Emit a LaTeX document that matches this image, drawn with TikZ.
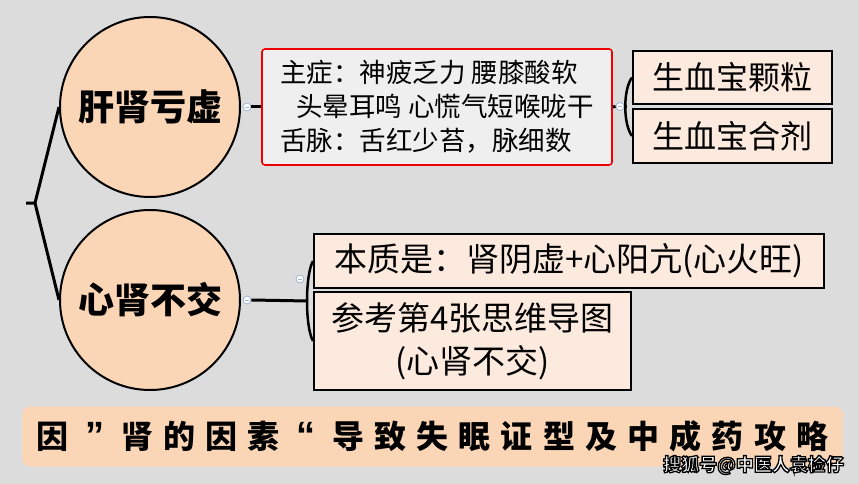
\documentclass[tikz,border=0pt]{standalone}
\usepackage{fontspec}
\setmainfont{Noto Sans CJK SC}
\newfontfamily\heavy{Noto Sans CJK SC Black}
\newfontfamily\qfont{Liberation Sans}
\usetikzlibrary{calc}
\definecolor{bg}{HTML}{DCDCDC}
\definecolor{peach}{HTML}{FBD6B6}
\definecolor{lpeach}{HTML}{FDEADE}
\definecolor{boxgray}{HTML}{EFEFEF}
\definecolor{redb}{HTML}{F00000}
\definecolor{markblue}{HTML}{9DB3D9}
\def\lsp#1{\lspA#1\relax}
\def\lspA#1{\ifx#1\relax\unskip\else#1\hspace{10.2pt}\expandafter\lspA\fi}
\newcommand\qcell[1]{\makebox[32pt][c]{\qfont\bfseries\fontsize{38}{38}\selectfont #1}\hspace{10.2pt}}
\newcommand\outlined[1]{{\color{white}\special{pdf:literal direct 0 0 0 RG 2 Tr 1.3 w}#1\special{pdf:literal direct 0 Tr}}}
\begin{document}
\begin{tikzpicture}[x=1pt,y=-1pt,
  circ/.style={circle, draw=black, line width=2pt, fill=peach, minimum size=180pt, inner sep=0pt,
    font=\fontsize{36}{40}\selectfont\heavy},
  redbox/.style={rectangle, rounded corners=3pt, draw=redb, line width=1.6pt, fill=boxgray,
    minimum width=350pt, minimum height=116pt, inner sep=0pt, align=left,
    font=\fontsize{26.5}{34}\selectfont},
  medbox/.style={rectangle, draw=black, line width=2pt, fill=lpeach, inner sep=0pt,
    font=\fontsize{32}{43}\selectfont},
  colmark/.style={circle, draw=markblue, fill=white, line width=0.8pt, minimum size=8pt, inner sep=0pt,
    path picture={\draw[markblue,line width=0.8pt]
      ($(path picture bounding box.west)+(2,0)$) -- ($(path picture bounding box.east)+(-2,0)$);}},
  conn/.style={line width=3pt, black},
  brk/.style={line width=2.5pt, black},
]
% background
\fill[bg] (0,0) rectangle (859,484);
\useasboundingbox (0,0) rectangle (859,484);

% main circles
\node[circ] (c1) at (150,107) {肝肾亏虚};
\node[circ] (c2) at (150,300) {心肾不交};

% left tree bracket
\coordinate (root) at (26,203);
\coordinate (fork) at (35,203);
\draw[conn, line join=round] (root) -- (fork) -- (c1.west);
\draw[conn, line join=round] (fork) -- (c2.west);

% group 1
\node[redbox] (sym) at (437,107) {主症：神疲乏力 腰膝酸软\\\hspace*{16pt}头晕耳鸣 心慌气短喉咙干\\舌脉：舌红少苔，脉细数};
\node[colmark] (m1) at (247,107) {};
\draw[conn] (m1.east) -- (sym.west);

\node[medbox, minimum width=199pt, minimum height=53pt] (b1) at (732.5,77.5) {生血宝颗粒};
\node[medbox, minimum width=199pt, minimum height=54pt] (b2) at (732.5,136) {生血宝合剂};
\node[colmark] (m2) at (620,106.5) {};
\coordinate (br1) at (627,106.5);
\draw[conn] (sym.east) -- (m2.west);
\draw[conn] (m2.east) -- (br1);
\draw[brk] (b1.west) .. controls ($(b1.west)+(-9,12)$) and ($(b2.west)+(-9,-12)$) .. (b2.west);

% group 2
\node[medbox, minimum width=510pt, minimum height=54pt, font=\fontsize{33}{43}\selectfont] (b3) at (569,261) {本质是：肾阴虚+心阳亢(心火旺)};
\node[medbox, minimum width=317pt, minimum height=98pt, align=center, font=\fontsize{33}{43}\selectfont] (b4) at (472.5,341) {参考第4张思维导图\\(心肾不交)};
\node[colmark] (m3) at (247,300) {};
\coordinate (br2) at (308,301);
\draw[conn] (m3.east) -- (br2);
\draw[brk] (b3.west) .. controls ($(b3.west)+(-8,14)$) and ($(b4.west)+(-8,-14)$) .. (b4.west);
\node[colmark] (m4) at (300,279) {};

% banner
\node[rectangle, rounded corners=8pt, fill=peach, minimum width=821pt, minimum height=60pt, inner sep=0pt] (banner) at (432.5,436.5) {};
\node[inner sep=0pt, font=\fontsize{32}{36}\selectfont\heavy] (title) at (banner.center)
  {\lsp{因}\hspace{10.2pt}\qcell{”}\lsp{肾的因素}\hspace{10.2pt}\qcell{“}\lsp{导致失眠证型及中成药攻略}};

% watermark
\node[inner sep=0pt, font=\fontsize{18}{20}\selectfont\bfseries] (wm) at (753.5,465) {\outlined{搜狐号@中医人袁检仔}};
\end{tikzpicture}
\end{document}
